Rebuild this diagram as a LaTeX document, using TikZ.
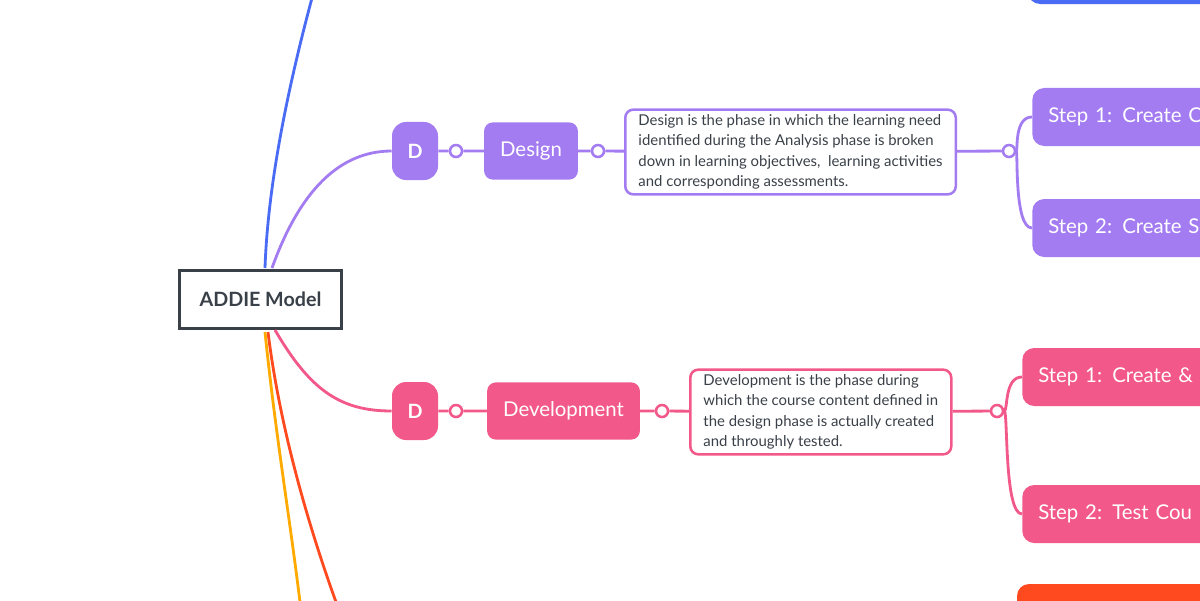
\documentclass[tikz,border=0pt]{standalone}
\usepackage{fontspec}
\setmainfont{Lato}
\begin{document}
\begin{tikzpicture}[x=0.025cm,y=-0.025cm,
  purp/.style={draw=none,fill=cP},
  conn/.style={line width=2pt},
  dot/.style={circle,draw,line width=1.8pt,fill=white,minimum size=12\pgflinewidth,inner sep=0pt,minimum size=0.3cm},
  letter/.style={rounded corners=0.35cm,minimum width=1.15cm,minimum height=1.45cm,text=white,font=\fontsize{14}{16}\selectfont\bfseries},
  phase/.style={rounded corners=0.22cm,minimum height=1.43cm,text=white,font=\fontsize{14.5}{16}\selectfont,inner xsep=0.4cm},
  desc/.style={draw,fill=white,line width=1.8pt,rounded corners=0.2cm,align=left,font=\fontsize{10.6}{14.6}\selectfont,text=textc,inner xsep=0.33cm,anchor=west},
  stepbox/.style={rounded corners=0.3cm,minimum height=1.45cm,text=white,font=\fontsize{14.5}{16}\selectfont,anchor=west,minimum width=6cm,text width=5.2cm,align=left,inner xsep=0.4cm}]
\definecolor{cP}{HTML}{A47CF2}
\definecolor{cK}{HTML}{F2588A}
\definecolor{cB}{HTML}{4A6CF5}
\definecolor{cR}{HTML}{FF4A1F}
\definecolor{cY}{HTML}{FFAA00}
\definecolor{textc}{HTML}{3A4048}
\useasboundingbox (0,0) rectangle (1200,600);
\clip (0,0) rectangle (1200,600);
\fill[white] (0,0) rectangle (1200,600);
% root
\node[draw=textc,line width=2.5pt,minimum width=4.05cm,minimum height=1.45cm,text=textc,font=\fontsize{14}{16}\selectfont\bfseries] (root) at (260.5,299.5) {ADDIE Model};
\coordinate (topend) at (312,-2);
\coordinate (rend) at (336,602);
\coordinate (yend) at (300,602);
\draw[cB,conn] (265,268) .. controls (268,180) and (290,80) .. (topend);
\draw[cR,conn] (268,332) .. controls (280,430) and (310,530) .. (rend);
\draw[cY,conn] (265,332) .. controls (275,430) and (290,520) .. (yend);
\fill[cB,rounded corners=0.3cm] (1028,-60) rectangle (1260,4);
\fill[cR,rounded corners=0.3cm] (1017,584) rectangle (1260,660);
% Design
\node[letter,fill=cP] (d1) at (415,151) {D};
\node[phase,fill=cP] (design) at (531,151) {Design};
\node[dot,draw=cP] (c1) at (456,151) {};
\node[dot,draw=cP] (c2) at (598,151) {};
\node[desc,draw=cP] (ds) at (624,152) {Design is the phase in which the learning need\\identified during the Analysis phase is broken\\down in learning objectives,\ \ learning activities\\and corresponding assessments.};
\node[dot,draw=cP] (c3) at (1009,151) {};
\node[stepbox,fill=cP] (s1) at (1032,117) {Step 1: Create C};
\node[stepbox,fill=cP] (s2) at (1032,228) {Step 2: Create S};
\draw[cP,conn] (272,268) .. controls (300,190) and (340,151) .. (d1.west);
\draw[cP,conn] (d1) -- (c1) -- (design) -- (c2) -- (ds);
\draw[cP,conn] (ds) -- (c3);
\draw[cP,conn] (c3) .. controls (1018,151) and (1014,117) .. (s1.west);
\draw[cP,conn] (c3) .. controls (1018,151) and (1014,228) .. (s2.west);
% Development
\node[letter,fill=cK] (d2) at (415,411) {D};
\node[phase,fill=cK] (dev) at (563.5,411) {Development};
\node[dot,draw=cK] (k1) at (456,411) {};
\node[dot,draw=cK] (k2) at (662,411) {};
\node[desc,draw=cK] (dd) at (689,412) {Development is the phase during\\which the course content defined in\\the design phase is actually created\\and throughly tested.};
\node[dot,draw=cK] (k3) at (997,411) {};
\node[stepbox,fill=cK] (t1) at (1022,377) {Step 1: Create \&};
\node[stepbox,fill=cK] (t2) at (1022,514) {Step 2: Test Cou};
\draw[cK,conn] (275,330) .. controls (310,390) and (340,411) .. (d2.west);
\draw[cK,conn] (d2) -- (k1) -- (dev) -- (k2) -- (dd);
\draw[cK,conn] (dd) -- (k3);
\draw[cK,conn] (k3) .. controls (1008,411) and (1004,377) .. (t1.west);
\draw[cK,conn] (k3) .. controls (1008,411) and (1004,514) .. (t2.west);
\end{tikzpicture}
\end{document}
